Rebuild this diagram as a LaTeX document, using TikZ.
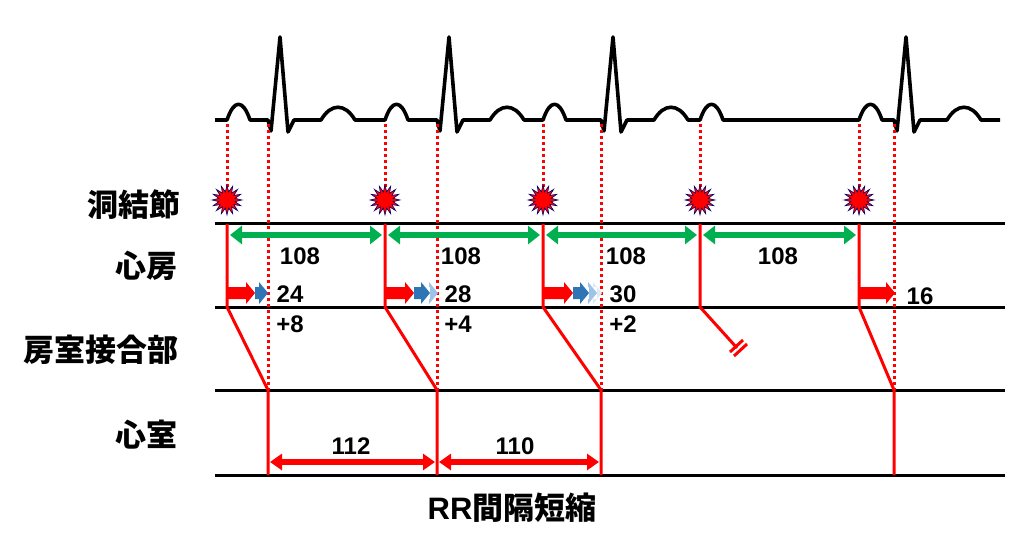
\documentclass[tikz,border=0pt]{standalone}
\usepackage{fontspec}
\setmainfont{Liberation Sans}
\newfontfamily\jpfont{Noto Sans CJK JP}
\usetikzlibrary{shapes.geometric,arrows.meta}
\definecolor{ivgreen}{HTML}{00B050}
\definecolor{avblue}{HTML}{2E75B6}
\definecolor{avlight}{HTML}{9DC3E6}
\definecolor{avpale}{HTML}{DEEBF7}

% ECG pieces (x = start of the wave)
\def\pwave#1{-- (#1,120) .. controls (#1+7,99) and (#1+16,99) .. (#1+23,120)}
\def\qrst#1{-- (#1,120) -- (#1+3,131) -- (#1+12,37) -- (#1+20,132) -- (#1+26,120)
  -- (#1+53,120) .. controls (#1+63,103) and (#1+77,103) .. (#1+87,120)}

\tikzset{
  row/.style={line width=3pt},
  guide/.style={red, line width=3pt, dash pattern=on 3pt off 3pt},
  cond/.style={red, line width=3pt},
  sinus/.style={star, star points=16, star point ratio=1.8, minimum size=30pt,
    fill=red, draw=blue!40!black, line width=0.6pt, inner sep=0pt},
  interval/.style={draw=ivgreen, line width=6.5pt, {Triangle[length=12pt,width=18pt]}-{Triangle[length=12pt,width=18pt]}},
  rrint/.style={draw=red, line width=5.5pt, {Triangle[length=12pt,width=16pt]}-{Triangle[length=12pt,width=16pt]}},
  num/.style={font=\bfseries\fontsize{24}{26}\selectfont},
  rowlabel/.style={font=\jpfont\bfseries\fontsize{31}{33}\selectfont}
}
\newcommand\blockarr[3]{\fill[#3] (#1,287) -- (#2-9,287) -- (#2-9,282) -- (#2,293) -- (#2-9,304) -- (#2-9,299) -- (#1,299) -- cycle;}

\begin{document}
\begin{tikzpicture}[x=1pt,y=-1pt]
\useasboundingbox (0,0) rectangle (1024,545);

% ECG
\draw[line width=3.6pt, line join=round] (215,120)
  \pwave{227} \qrst{268} \pwave{385} \qrst{437} \pwave{543} \qrst{601}
  \pwave{700} \pwave{859} \qrst{894} -- (1000,120);

% rows
\foreach \y in {224,307,390,475}
  \draw[row] (215,\y) -- (1005,\y);

% guides
\foreach \x in {227,385,543,700,859}
  \draw[guide] (\x,124) -- (\x,190);
\foreach \x in {268,437,601,894}
  \draw[guide] (\x,124) -- (\x,390);

% sinus node impulses
\foreach \x [count=\i] in {227,385,543,700,859}
  \node[sinus] (s\i) at (\x,200) {};

% conduction
\foreach \p/\q in {227/268,385/437,543/601,859/894}
  \draw[cond] (\p,224) -- (\p,307) -- (\q,390) -- (\q,475);
\draw[cond] (700,224) -- (700,307) -- (737,348);
\draw[cond] (730,352) -- (743,340);
\draw[cond] (734,356) -- (747,344);

% atrial intervals
\foreach \a/\b in {227/385,385/543,543/700,700/859}
  \draw[interval] (\a+3,235) -- (\b-3,235);
\node[num] (pp1) at (300,256) {108};
\node[num] (pp2) at (461,256) {108};
\node[num] (pp3) at (626,256) {108};
\node[num] (pp4) at (778,256) {108};

% AV delay
\blockarr{227}{255}{red}
\blockarr{255}{268}{avblue}
\blockarr{385}{414}{red}
\blockarr{414}{430}{avblue}
\blockarr{430}{438}{avlight}
\blockarr{543}{573}{red}
\blockarr{573}{589}{avblue}
\blockarr{589}{597}{avlight}
\blockarr{597}{602}{avpale}
\blockarr{859}{895}{red}
\node[num] (d1) at (290,294) {24};
\node[num] (e1) at (290,324) {+8};
\node[num] (d2) at (458,294) {28};
\node[num] (e2) at (458,324) {+4};
\node[num] (d3) at (623,294) {30};
\node[num] (e3) at (623,324) {+2};
\node[num] (d4) at (920,296) {16};

% RR intervals
\draw[rrint] (270,462) -- (435,462);
\draw[rrint] (439,462) -- (599,462);
\node[num] (rr1) at (351,446) {112};
\node[num] (rr2) at (515,446) {110};

% labels
\node[rowlabel] (sn) at (134,205) {洞結節};
\node[rowlabel] (ra) at (146,266) {心房};
\node[rowlabel] (av) at (101,350) {房室接合部};
\node[rowlabel] (rv) at (146,435) {心室};
\node[rowlabel] (rr) at (512,508) {\fontspec{Liberation Sans}\bfseries RR\jpfont\bfseries 間隔短縮};
\end{tikzpicture}
\end{document}
